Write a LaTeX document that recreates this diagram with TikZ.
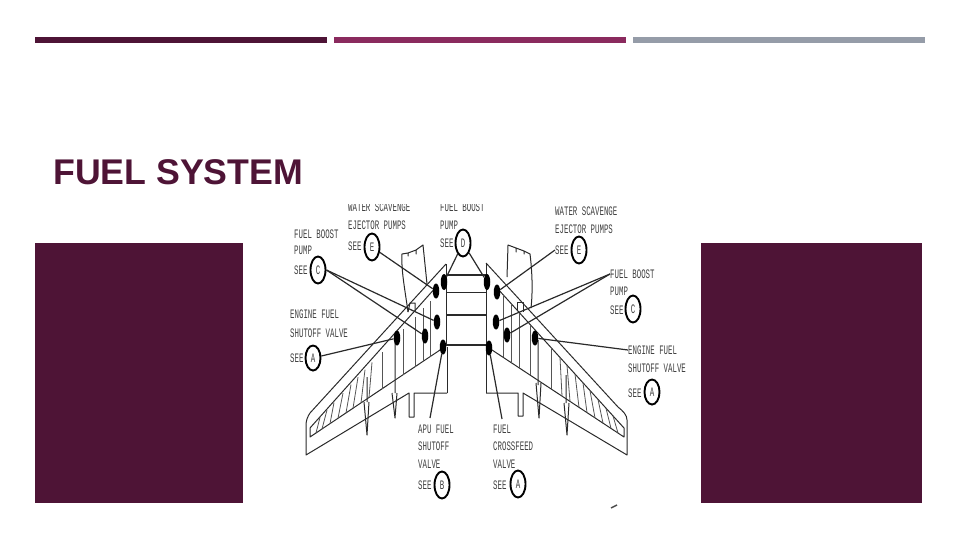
\documentclass[tikz,border=0pt]{standalone}
\usepackage{fontspec}
\usepackage{graphicx}
\setmainfont{Liberation Sans}
\newfontfamily\labfont{Liberation Mono}
\usetikzlibrary{shapes.geometric}
\definecolor{wine}{HTML}{4E1436}
\definecolor{plum}{HTML}{8A2A5E}
\definecolor{slategr}{HTML}{959CA8}
\definecolor{inkc}{HTML}{2A2A2A}
\newcommand{\tall}[1]{\scalebox{1}[1.75]{\fontsize{7.4}{8}\labfont #1}}
\tikzset{
  x=1pt,y=-1pt,
  lab/.style={anchor=west,inner sep=0pt,text=black!75},
  see/.style={ellipse,draw=black,line width=1.9pt,minimum width=15pt,minimum height=27pt,inner sep=0pt,text=black!75},
  valve/.style={ellipse,fill=black,inner sep=0pt,minimum width=6.5pt,minimum height=15pt},
  lead/.style={draw=inkc,line width=1.2pt},
  part/.style={draw=inkc,line width=1pt,line join=round},
  thin part/.style={draw=inkc!80,line width=0.8pt},
  bar/.style={fill=#1,draw=none},
}
\begin{document}
\begin{tikzpicture}
\useasboundingbox (0,0) rectangle (960,540);
% slide furniture
\fill[bar=wine] (35,37) rectangle (327,43);
\fill[bar=plum] (334,37) rectangle (626,43);
\fill[bar=slategr] (633,37) rectangle (925,43);
\fill[bar=wine] (35,243) rectangle (243,503);
\fill[bar=wine] (701,243) rectangle (922,503);
\node[anchor=west,inner sep=0pt,text=wine,font=\bfseries\fontsize{35.7}{38}\selectfont] (title) at (53,172.5) {FUEL SYSTEM};
% fuselage section
\draw[part] (446,264) -- (446,345) (486,264) -- (486,345);
\draw[part,line width=1.4pt] (446,275) -- (486,275) (446,315) -- (486,315) (446,345) -- (486,345);
\draw[part] (446,292) -- (486,292);
% left wing
\draw[part] (447,393) -- (447,347);
\draw[part] (447,393) -- (414,393) -- (414,417) -- (409,417) -- (409,393) -- (306,455) -- (306,425)
  .. controls (306,420) and (308,416) .. (310,413) -- (446,264);
\draw[part] (437,286) -- (310,428) -- (310,437) -- (443,348);
\foreach \b/\t in {316/320,322/327,330/334,338/343,346/351,353/358,361/365,369/372,382/382,403/403,415/415,423/423,430/430}
  \draw[thin part] (\b,{437-(\b-310)*0.669}) -- (\t,{428-(\t-310)*1.06});
% right wing
\draw[part] (486,393) -- (486,347);
\draw[part] (486,393) -- (518,393) -- (518,416) -- (523,416) -- (523,393) -- (627,455) -- (627,420)
  .. controls (627,415) and (623,411) .. (618,407) -- (486,263);
\draw[part] (497,288) -- (624,428) -- (624,437) -- (489,348);
\foreach \b/\t in {618/613,611/606,603/598,595/590,587/583,579/575,570/567,562/560,551/551,530/530,519/519,511/511,503/503}
  \draw[thin part] (\b,{437-(624-\b)*0.659}) -- (\t,{428-(624-\t)*1.1});
% engines
\draw[part] (367,377) -- (367,402) (364,402) -- (367,435) -- (369,402);
\draw[part] (395,340) -- (395,393) (392,393) -- (395,418) -- (397,393);
\draw[part] (538,340) -- (538,385) (536,383) -- (539,418) -- (541,383);
\draw[part] (566,375) -- (566,403) (564,403) -- (567,435) -- (569,403);
% rear structures
\draw[part] (427,284) -- (423,245) -- (416,250) -- (416,254) -- (416,250) -- (408,253) -- (408,256) -- (408,253) -- (402,254) .. controls (401,270) and (405,290) .. (408,312);
\draw[part] (408,312) -- (410,303) -- (415,303) -- (415,311);
\draw[part] (507,277) -- (508,245) -- (516,248) -- (516,252) -- (516,248) -- (524,251) -- (524,254) -- (524,251) -- (530,254) .. controls (532,270) and (533,290) .. (531,308);
\draw[part] (517,310) -- (517,302) -- (523,302) -- (523,312);
% valves and pumps
\node[valve] (L1) at (436,291) {};
\node[valve,minimum height=16pt] (L2) at (444,282) {};
\node[valve] (L3) at (437,322) {};
\node[valve] (L4) at (425,336) {};
\node[valve] (L5) at (397,338) {};
\node[valve] (L6) at (443,347) {};
\node[valve,minimum height=16pt] (R2) at (487,282) {};
\node[valve] (R1) at (497,292) {};
\node[valve] (R3) at (496,322) {};
\node[valve] (R4) at (507,335) {};
\node[valve] (R5) at (535,338) {};
\node[valve] (R6) at (489,348) {};
% callout circles
\node[see] (cE) at (372,247) {\tall{E}};
\node[see] (cD) at (463,243) {\tall{D}};
\node[see] (cC) at (318,270) {\tall{C}};
\node[see,minimum height=25pt] (cA) at (313,358) {\tall{A}};
\node[see] (cB) at (442,485) {\tall{B}};
\node[see] (cX) at (518,484) {\tall{A}};
\node[see,minimum height=25pt] (cA2) at (652,392) {\tall{A}};
\node[see] (cC2) at (633,309) {\tall{C}};
\node[see] (cE2) at (579,250) {\tall{E}};
% labels
\begin{scope}
\clip (280,204.5) rectangle (700,300);
\node[lab] (t1) at (348,207) {\tall{WATER SCAVENGE}};
\node[lab] (t2) at (440,207) {\tall{FUEL BOOST}};
\end{scope}
\node[lab] (t3) at (348,225) {\tall{EJECTOR PUMPS}};
\node[lab] (t4) at (348,246) {\tall{SEE}};
\node[lab] (t5) at (440,225) {\tall{PUMP}};
\node[lab] (t6) at (440,243) {\tall{SEE}};
\node[lab] (t7) at (294,234) {\tall{FUEL BOOST}};
\node[lab] (t8) at (294,250) {\tall{PUMP}};
\node[lab] (t9) at (294,270) {\tall{SEE}};
\node[lab] (t10) at (290,314) {\tall{ENGINE FUEL}};
\node[lab] (t11) at (290,333) {\tall{SHUTOFF VALVE}};
\node[lab] (t12) at (290,358) {\tall{SEE}};
\node[lab] (t13) at (555,211) {\tall{WATER SCAVENGE}};
\node[lab] (t14) at (555,229) {\tall{EJECTOR PUMPS}};
\node[lab] (t15) at (555,250) {\tall{SEE}};
\node[lab] (t16) at (610,274) {\tall{FUEL BOOST}};
\node[lab] (t17) at (610,291) {\tall{PUMP}};
\node[lab] (t18) at (610,310) {\tall{SEE}};
\node[lab] (t19) at (628,350) {\tall{ENGINE FUEL}};
\node[lab] (t20) at (628,368) {\tall{SHUTOFF VALVE}};
\node[lab] (t21) at (628,393) {\tall{SEE}};
\node[lab] (t22) at (418,429) {\tall{APU FUEL}};
\node[lab] (t23) at (418,446) {\tall{SHUTOFF}};
\node[lab] (t24) at (418,464) {\tall{VALVE}};
\node[lab] (t25) at (418,485) {\tall{SEE}};
\node[lab] (t26) at (493,429) {\tall{FUEL}};
\node[lab] (t27) at (493,446) {\tall{CROSSFEED}};
\node[lab] (t28) at (493,464) {\tall{VALVE}};
\node[lab] (t29) at (493,485) {\tall{SEE}};
% leader lines
\draw[lead] (cE) -- (L1);
\draw[lead] (cD) -- (L2);
\draw[lead] (cD) -- (R2);
\draw[lead] (cC.east) -- (L3);
\draw[lead] (cC.east) -- (L4);
\draw[lead] (cA) -- (L5);
\draw[lead] (t15.west) -- (R1);
\draw[lead] (t16.west) -- (R3);
\draw[lead] (t16.west) -- (R4);
\draw[lead] (t19.west) -- (R5);
\coordinate (apu) at (430,418);
\coordinate (xf) at (502,419);
\draw[lead] (apu) -- (L6);
\draw[lead] (xf) -- (R6);
\draw[draw=black!70,line width=1.4pt] (611,508) -- (617,505);
\end{tikzpicture}
\end{document}
